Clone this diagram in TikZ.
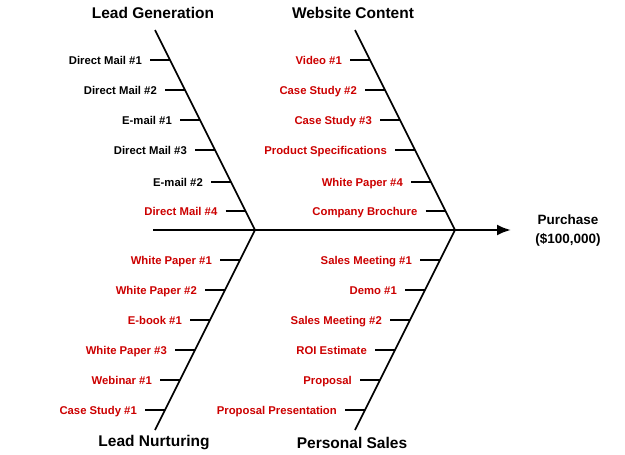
\documentclass[tikz,border=0pt]{standalone}
\usepackage{fontspec}
\setmainfont{Liberation Sans}
\usetikzlibrary{arrows.meta,calc}
\definecolor{lred}{RGB}{204,0,0}
\begin{document}
\begin{tikzpicture}[x=1pt,y=-1pt,
  bone/.style={line width=1.6pt},
  tick/.style={line width=1.2pt},
  lbl/.style={font=\bfseries\fontsize{11.3}{13}\selectfont,anchor=east,inner sep=0pt,text height=8pt,text depth=0pt},
  ttl/.style={font=\bfseries\fontsize{15.5}{18}\selectfont,inner sep=0pt}]
\useasboundingbox (0,0) rectangle (625,455);
\coordinate (s0) at (153,230);
\coordinate (j1) at (255,230);
\coordinate (j2) at (455,230);
\coordinate (tip) at (511,230);
\coordinate (ul) at (155,30);
\coordinate (ur) at (355,30);
\coordinate (ll) at (155,430);
\coordinate (lr) at (355,430);
\draw[line width=2.4pt,-{Latex[length=14pt,width=11pt]}] (s0) -- (tip);
\draw[bone] (ul) -- (j1) -- (ll);
\draw[bone] (ur) -- (j2) -- (lr);
\foreach \y/\t/\c in {60/Direct Mail \#1/black,90/Direct Mail \#2/black,120/E-mail \#1/black,150/Direct Mail \#3/black,182/E-mail \#2/black,211/Direct Mail \#4/lred}{
  \pgfmathsetmacro\bx{155+(\y-30)/2}
  \draw[tick] (\bx-20,\y) -- (\bx,\y);
  \node[lbl,text=\c] at (\bx-28,\y) {\t};}
\foreach \y/\t in {60/Video \#1,90/Case Study \#2,120/Case Study \#3,150/Product Specifications,182/White Paper \#4,211/Company Brochure}{
  \pgfmathsetmacro\bx{355+(\y-30)/2}
  \draw[tick] (\bx-20,\y) -- (\bx,\y);
  \node[lbl,text=lred] at (\bx-28,\y) {\t};}
\foreach \y/\t in {260/White Paper \#1,290/White Paper \#2,320/E-book \#1,350/White Paper \#3,380/Webinar \#1,410/Case Study \#1}{
  \pgfmathsetmacro\bx{255-(\y-230)/2}
  \draw[tick] (\bx-20,\y) -- (\bx,\y);
  \node[lbl,text=lred] at (\bx-28,\y) {\t};}
\foreach \y/\t in {260/Sales Meeting \#1,290/Demo \#1,320/Sales Meeting \#2,350/ROI Estimate,380/Proposal,410/Proposal Presentation}{
  \pgfmathsetmacro\bx{455-(\y-230)/2}
  \draw[tick] (\bx-20,\y) -- (\bx,\y);
  \node[lbl,text=lred] at (\bx-28,\y) {\t};}
\node[ttl] (t1) at (153,13) {Lead Generation};
\node[ttl] (t2) at (353,13) {Website Content};
\node[ttl] (t3) at (154,443) {Lead Nurturing};
\node[ttl] (t4) at (352,443) {Personal Sales};
\node[ttl,font=\bfseries\fontsize{13.5}{19}\selectfont,align=center] (t5) at (568,231) {Purchase\\(\$100,000)};
\end{tikzpicture}
\end{document}
